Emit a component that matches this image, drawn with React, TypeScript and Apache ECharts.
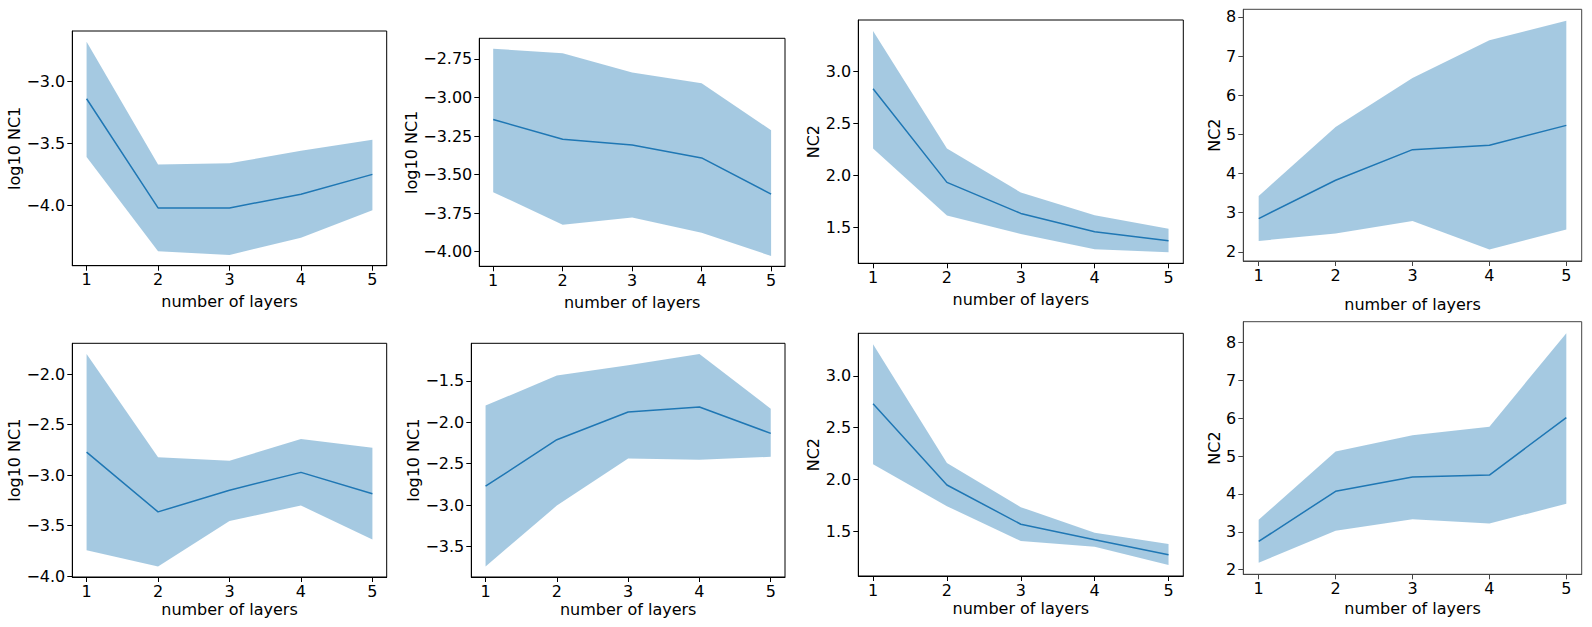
import React, { useEffect, useRef } from "react";
import * as echarts from "echarts";

// ---- data ----
const layers = [1, 2, 3, 4, 5];

const p1Mean = [-3.14, -4.02, -4.02, -3.91, -3.75];
const p1Upper = [-2.68, -3.67, -3.66, -3.56, -3.47];
const p1Lower = [-3.61, -4.37, -4.4, -4.26, -4.04];
const p1Ticks = [-4.0, -3.5, -3.0];

const p2Mean = [-3.143, -3.271, -3.308, -3.392, -3.627];
const p2Upper = [-2.683, -2.713, -2.837, -2.908, -3.212];
const p2Lower = [-3.614, -3.826, -3.779, -3.878, -4.028];
const p2Ticks = [-4.0, -3.75, -3.5, -3.25, -3.0, -2.75];

const p3Mean = [2.834, 1.933, 1.634, 1.458, 1.37];
const p3Upper = [3.39, 2.26, 1.835, 1.617, 1.487];
const p3Lower = [2.26, 1.615, 1.435, 1.29, 1.26];
const p3Ticks = [1.5, 2.0, 2.5, 3.0, 3.5];

const p4Mean = [2.85, 3.83, 4.61, 4.72, 5.23];
const p4Upper = [3.43, 5.19, 6.44, 7.4, 7.9];
const p4Lower = [2.28, 2.47, 2.79, 2.06, 2.57];
const p4Ticks = [2, 3, 4, 5, 6, 7, 8];

const p5Mean = [-2.771, -3.363, -3.148, -2.972, -3.184];
const p5Upper = [-1.8, -2.823, -2.857, -2.642, -2.728];
const p5Lower = [-3.743, -3.902, -3.452, -3.3, -3.637];
const p5Ticks = [-4.0, -3.5, -3.0, -2.5, -2.0];

const p6Mean = [-2.773, -2.21, -1.876, -1.815, -2.134];
const p6Upper = [-1.798, -1.435, -1.31, -1.173, -1.835];
const p6Lower = [-3.742, -3.007, -2.437, -2.453, -2.417];
const p6Ticks = [-3.5, -3.0, -2.5, -2.0, -1.5];

const p7Mean = [2.731, 1.947, 1.568, 1.419, 1.273];
const p7Upper = [3.304, 2.16, 1.733, 1.487, 1.377];
const p7Lower = [2.148, 1.742, 1.406, 1.35, 1.175];
const p7Ticks = [1.5, 2.0, 2.5, 3.0];

const p8Mean = [2.745, 4.07, 4.45, 4.5, 6.02];
const p8Upper = [3.32, 5.12, 5.55, 5.78, 8.25];
const p8Lower = [2.18, 3.03, 3.33, 3.22, 3.74];
const p8Ticks = [2, 3, 4, 5, 6, 7, 8];

const xLabel = "number of layers";
const nc1Label = "log10 NC1";
const nc2Label = "NC2";

// ---- layout (pixel boxes: left, top, right, bottom) ----
const panels = [
  { mean: p1Mean, upper: p1Upper, lower: p1Lower, ticks: p1Ticks, dec: 1, yName: nc1Label, box: [72.3, 31, 386.7, 265.7], yGap: 50, xGap: 20, frame: "#000" },
  { mean: p2Mean, upper: p2Upper, lower: p2Lower, ticks: p2Ticks, dec: 2, yName: nc1Label, box: [479.3, 38.3, 785, 266.3], yGap: 58, xGap: 20, frame: "#000" },
  { mean: p3Mean, upper: p3Upper, lower: p3Lower, ticks: p3Ticks, dec: 1, yName: nc2Label, box: [858.3, 20, 1183.3, 263.3], yGap: 35, xGap: 20, frame: "#000" },
  { mean: p4Mean, upper: p4Upper, lower: p4Lower, ticks: p4Ticks, dec: 0, yName: nc2Label, box: [1243.3, 9.3, 1581.7, 261], yGap: 12, xGap: 27, frame: "#444" },
  { mean: p5Mean, upper: p5Upper, lower: p5Lower, ticks: p5Ticks, dec: 1, yName: nc1Label, box: [72.3, 343.3, 386.7, 577], yGap: 50, xGap: 16, frame: "#000" },
  { mean: p6Mean, upper: p6Upper, lower: p6Lower, ticks: p6Ticks, dec: 1, yName: nc1Label, box: [471.3, 343.3, 785, 577], yGap: 50, xGap: 16, frame: "#000" },
  { mean: p7Mean, upper: p7Upper, lower: p7Lower, ticks: p7Ticks, dec: 1, yName: nc2Label, box: [858.3, 333.3, 1183.3, 576], yGap: 35, xGap: 16, frame: "#000" },
  { mean: p8Mean, upper: p8Upper, lower: p8Lower, ticks: p8Ticks, dec: 0, yName: nc2Label, box: [1243.3, 321.7, 1581.7, 574.3], yGap: 20, xGap: 18, frame: "#444" },
];

const FONT = "DejaVu Sans";
const FS = 16;
const C0 = "#1f77b4";

function buildOption() {
  const grid: any[] = [];
  const xAxis: any[] = [];
  const yAxis: any[] = [];
  const series: any[] = [];

  panels.forEach((p, i) => {
    const [l, t, r, b] = p.box;
    grid.push({
      left: l,
      top: t,
      width: r - l,
      height: b - t,
      show: true,
      borderColor: p.frame,
      borderWidth: 1,
      backgroundColor: "transparent",
      containLabel: false,
      outerBoundsMode: "none",
    });
    xAxis.push({
      type: "value",
      gridIndex: i,
      min: 0.8,
      max: 5.2,
      name: xLabel,
      nameLocation: "middle",
      nameGap: p.xGap + 8,
      nameTextStyle: { fontFamily: FONT, fontSize: FS, color: "#000" },
      axisLine: { show: true, onZero: false, lineStyle: { color: p.frame, width: 1 } },
      axisTick: { show: true, inside: false, length: 5, customValues: layers, lineStyle: { color: p.frame } },
      axisLabel: {
        customValues: layers,
        fontFamily: FONT,
        fontSize: FS,
        color: "#000",
        margin: 6,
        formatter: (v: number) => String(v),
      },
      splitLine: { show: false },
    });
    const vals = [...p.upper, ...p.lower, ...p.mean];
    const dmin = Math.min(...vals);
    const dmax = Math.max(...vals);
    const pad = (dmax - dmin) * 0.05;
    yAxis.push({
      type: "value",
      gridIndex: i,
      min: dmin - pad,
      max: dmax + pad,
      name: p.yName,
      nameLocation: "middle",
      nameGap: p.yGap,
      nameRotate: 90,
      nameTextStyle: { fontFamily: FONT, fontSize: FS, color: "#000" },
      axisLine: { show: true, onZero: false, lineStyle: { color: p.frame, width: 1 } },
      axisTick: { show: true, inside: false, length: 5, customValues: p.ticks, lineStyle: { color: p.frame } },
      axisLabel: {
        customValues: p.ticks,
        fontFamily: FONT,
        fontSize: FS,
        color: "#000",
        margin: 7,
        formatter: (v: number) => v.toFixed(p.dec).replace("-", "\u2212"),
      },
      splitLine: { show: false },
    });
    const upper = p.upper;
    const lower = p.lower;
    series.push({
      type: "custom",
      xAxisIndex: i,
      yAxisIndex: i,
      silent: true,
      z: 1,
      data: layers.map((x, k) => [x, lower[k], upper[k]]),
      encode: { x: 0, y: [1, 2] },
      renderItem: (params: any, api: any) => {
        if (params.dataIndex !== 0) return null;
        const pts: number[][] = [];
        for (let k = 0; k < layers.length; k++) pts.push(api.coord([layers[k], upper[k]]));
        for (let k = layers.length - 1; k >= 0; k--) pts.push(api.coord([layers[k], lower[k]]));
        return {
          type: "polygon",
          shape: { points: pts },
          style: { fill: C0, opacity: 0.4, stroke: null },
        };
      },
    });
    series.push({
      type: "line",
      xAxisIndex: i,
      yAxisIndex: i,
      z: 3,
      showSymbol: false,
      symbol: "none",
      silent: true,
      data: layers.map((x, k) => [x, p.mean[k]]),
      lineStyle: { color: C0, width: 1.5 },
    });
  });

  return {
    animation: false,
    backgroundColor: "#fff",
    textStyle: { fontFamily: FONT },
    grid,
    xAxis,
    yAxis,
    series,
  };
}

export default function App() {
  const ref = useRef<HTMLDivElement>(null);
  useEffect(() => {
    if (!ref.current) return;
    const chart = echarts.init(ref.current, undefined, { renderer: "svg" });
    chart.setOption(buildOption());
    return () => chart.dispose();
  }, []);
  return (
    <div
      ref={ref}
      style={{ position: "absolute", left: 0, top: 0, width: 1592, height: 627 }}
    />
  );
}
